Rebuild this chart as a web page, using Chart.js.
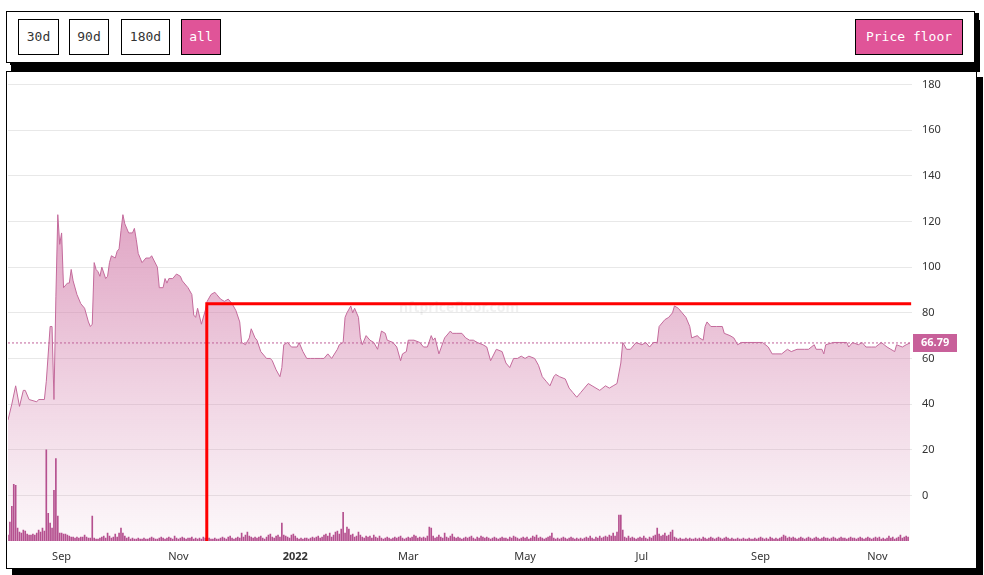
<!DOCTYPE html>
<html>
<head>
<meta charset="utf-8">
<script src="https://cdn.jsdelivr.net/npm/chart.js@4.4.0/dist/chart.umd.min.js"></script>
<style>
  body { margin: 0; background: #fff; width: 984px; height: 575px; overflow: hidden; position: relative; }
  #topbar { position: absolute; left: 6px; top: 11px; width: 967px; height: 50px; border: 1px solid #000;
            box-shadow: 4px 2px 0 #000, 5px 9px 0 #000; background: #fff; }
  .btn { position: absolute; top: 7px; height: 34px; border: 1px solid #000; background: #fff; color: #333;
         font: 13px "DejaVu Sans Mono", monospace; line-height: 34px; text-align: center; box-sizing: content-box; }
  .btn.on { background: #e05498; color: #fff; }
  #chartbox { position: absolute; left: 6px; top: 71px; width: 969px; height: 496px; border: 1px solid #000;
              box-shadow: 6px 6px 0 #000; background: #fff; }
  #wrap { position: absolute; left: 0; top: -4px; width: 969px; height: 500px; }
</style>
</head>
<body>
<div id="topbar">
  <div class="btn" style="left:11px;width:39px">30d</div>
  <div class="btn" style="left:62px;width:38px">90d</div>
  <div class="btn" style="left:114px;width:47px">180d</div>
  <div class="btn on" style="left:174px;width:38px">all</div>
  <div class="btn on" style="left:848px;width:106px">Price floor</div>
</div>
<div id="chartbox"><div id="wrap"><canvas id="floorChart"></canvas></div></div>
<script>
// ==== Data (x = days since 1 Aug 2021) ====
const priceDay = [3,5,7,9,11,12,14,18,19,22,23,25,26,27,28,29,30,31,32,34,35,36,37,39,41,43,45,46,47,48,49,50,51,52,54,55,56,57,59,60,61,62,63,64,66,68,69,70,71,73,75,77,78,81,82,84,85,86,87,89,91,93,94,97,99,100,101,102,104,106,107,109,111,112,114,116,118,120,122,124,125,127,129,130,132,133,135,138,140,141,143,145,146,147,149,151,154,155,157,159,161,163,166,168,170,172,175,176,178,179,180,182,183,184,186,187,188,190,192,194,196,198,200,201,204,206,208,209,211,212,215,218,220,222,224,225,226,228,231,234,235,237,240,242,244,246,248,251,253,255,258,261,263,265,267,269,271,273,275,278,280,282,284,286,288,289,291,294,296,298,300,302,304,306,308,310,312,315,317,319,321,323,324,326,328,329,331,334,336,338,340,342,343,346,348,350,351,353,355,357,359,360,363,364,366,367,368,370,373,376,377,380,382,384,386,389,392,394,397,400,402,404,407,410,412,415,419,421,424,425,428,429,430,434,437,441,442,444,447,449,451,454,456,459,462,464,466,467,470,472,474];
const priceVal = [33,40,48,39,46,46,42,41,42,42,50,74,74,42,87,123,110,115,91,93,93,99,94,88,84,82,76,74,75,102,99,98,96,100,95,96,102,105,104,107,108,116,123,119,115,115,117,112,106,102,104,104,105,100,91,91,95,93,95,95,97,96,94,91,88,79,78,82,75,81,85,88,89,88,86,85,86,84,81,76,67,66,69,73,69,68,63,60,60,59,55,52,56,66,67,65,65,67,63,60,60,60,60,60,62,60,64,66,67,78,80,83,80,82,78,69,66,70,68,67,64,72,71,68,67,65,59,62,63,68,68,67,65,65,70,68,69,62,69,72,71,71,71,69,68,68,67,66,65,59,64,63,58,56,60,60,61,60,61,60,57,52,50,48,52,53,52,51,47,45,43,45,47,49,48,47,46,48,47,48,49,58,67,64,64,65,67,66,67,65,67,67,74,77,78,80,83,82,80,78,74,69,70,69,68,74,76,74,74,74,71,70,69,66,67,67,67,67,67,65,62,62,62,64,63,64,64,64,66,64,64,62,66,67,67,67,65,67,66,67,65,65,65,67,65,64,63,66,65,66,66.79];

// daily volume, first entry is day 3
const volFirstDay = 3;
const volume = [
  6,19,35,57,56,13,9,8,11,10, 7,6,6,7,6,8,11,9,13,10, 92,28,18,13,51,83,25,8,8,7, 7,6,5,4,4,3,4,3,4,4,
  6,4,3,3,25,3,2,2,3,4, 5,3,8,5,3,4,7,4,8,13, 8,5,3,4,2,3,2,2,3,2, 2,3,2,2,3,4,3,2,2,3,
  4,3,2,3,4,3,2,5,3,2, 3,4,3,2,3,3,4,2,3,2, 3,2,4,3,2,3,2,2,3,2, 2,3,4,3,2,4,5,3,2,3,
  4,3,8,4,6,9,5,4,3,4, 3,4,5,3,2,4,6,7,4,3, 5,6,4,18,6,5,4,3,6,7, 5,3,2,3,2,3,3,2,3,4,
  3,4,5,3,4,6,7,5,8,4, 6,9,10,7,12,29,8,14,12,6, 7,4,5,9,6,4,3,5,4,5, 3,6,4,3,5,3,2,3,4,3,
  2,3,4,3,4,5,3,2,3,4, 3,4,6,5,3,4,3,4,3,5, 14,13,5,3,4,6,4,3,8,4, 3,5,7,4,3,4,3,2,3,4,
  3,4,5,3,2,4,3,5,4,3, 4,3,2,3,4,3,2,3,4,3, 3,2,4,3,5,4,3,2,3,4, 3,4,2,3,5,4,6,3,4,3,
  2,3,4,5,8,3,2,3,2,3, 4,3,2,3,4,3,2,3,2,3, 2,3,4,3,5,3,2,4,3,5, 3,4,5,4,6,5,8,5,9,26,
  26,11,4,3,5,3,4,3,2,3, 4,3,5,3,2,4,3,5,6,13, 7,5,6,8,5,6,9,11,4,3, 2,3,2,2,3,2,3,2,2,3,
  2,3,2,4,3,2,3,4,3,2, 3,4,3,2,3,4,3,2,3,2, 2,3,2,2,3,2,2,3,2,2, 3,2,3,4,3,2,3,2,4,3,
  2,3,2,3,4,6,5,3,4,3, 4,3,2,3,4,3,2,3,4,3, 2,3,4,3,2,3,4,3,3,2, 3,4,3,2,3,4,3,3,2,3,
  4,3,3,2,3,4,3,2,3,4, 3,2,3,4,3,4,2,3,2,3, 5,3,4,2,3,4,6,3,4,5, 4
];

const tickDays = [31, 92, 153, 212, 273, 334, 396, 457];
const tickLabels = ["Sep", "Nov", "2022", "Mar", "May", "Jul", "Sep", "Nov"];
const yTicks = [0, 20, 40, 60, 80, 100, 120, 140, 160, 180];

// red marker (break-out line) and last price
const markerX = [106.8, 106.8, 474.6];
const markerY = [-20, 84, 84];
const lastPrice = 66.79;

// ==== Plugins ====
const watermark = {
  id: "watermark",
  beforeDatasetsDraw(chart) {
    const { ctx, chartArea: a } = chart;
    ctx.save();
    ctx.font = "bold 14px 'Noto Sans', sans-serif";
    ctx.fillStyle = "rgba(0,0,0,0.06)";
    ctx.textAlign = "center";
    ctx.textBaseline = "middle";
    ctx.fillText("nftpricefloor.com", (a.left + a.right) / 2, a.top + 223);
    ctx.restore();
  }
};

const lastLabel = {
  id: "lastLabel",
  afterDatasetsDraw(chart) {
    const { ctx, chartArea: a } = chart;
    const y = chart.scales.y.getPixelForValue(lastPrice);
    ctx.save();
    ctx.fillStyle = "#c8609a";
    ctx.fillRect(a.right + 3, Math.round(y) - 9, 44, 18);
    ctx.fillStyle = "#fff";
    ctx.font = "bold 11px 'Noto Sans', sans-serif";
    ctx.textBaseline = "middle";
    ctx.fillText(lastPrice.toFixed(2), a.right + 11, y);
    ctx.restore();
  }
};

// ==== Chart ====
const ctx = document.getElementById("floorChart").getContext("2d");
new Chart(ctx, {
  type: "line",
  data: {
    datasets: [
      {
        type: "line",
        label: "marker",
        data: markerX.map((x, i) => ({ x, y: markerY[i] })),
        borderColor: "#f00",
        borderWidth: 3,
        pointRadius: 0,
        fill: false,
        clip: false,
        order: 0
      },
      {
        type: "line",
        label: "last",
        data: [{ x: 3, y: lastPrice }, { x: 475, y: lastPrice }],
        borderColor: "#c0619a",
        borderWidth: 1,
        borderDash: [2, 2],
        pointRadius: 0,
        fill: false,
        clip: false,
        order: 1
      },
      {
        type: "bar",
        label: "volume",
        yAxisID: "v",
        data: volume.map((v, i) => ({ x: volFirstDay + i, y: v })),
        backgroundColor: "#b5508f",
        barThickness: 1,
        order: 2
      },
      {
        type: "line",
        label: "floor",
        data: priceDay.map((x, i) => ({ x, y: priceVal[i] })),
        borderColor: "#c46b9c",
        borderWidth: 1,
        pointRadius: 0,
        tension: 0,
        fill: "start",
        backgroundColor: (c) => {
          const a = c.chart.chartArea;
          if (!a) return "rgba(215,140,180,0.5)";
          const g = c.chart.ctx.createLinearGradient(0, a.top, 0, a.bottom);
          g.addColorStop(0, "rgba(205,110,160,0.85)");
          g.addColorStop(0.45, "rgba(210,125,170,0.55)");
          g.addColorStop(1, "rgba(215,140,180,0.06)");
          return g;
        },
        order: 3
      }
    ]
  },
  options: {
    responsive: true,
    maintainAspectRatio: false,
    animation: false,
    layout: { padding: { left: 1, top: 8, right: 0, bottom: 0 } },
    plugins: { legend: { display: false }, tooltip: { enabled: false } },
    scales: {
      x: {
        type: "linear",
        min: 3,
        max: 474,
        offset: false,
        grid: { display: false, drawTicks: false },
        border: { display: false },
        afterBuildTicks: (s) => { s.ticks = tickDays.map(v => ({ value: v })); },
        afterFit: (s) => { s.height = 27; },
        ticks: {
          autoSkip: false,
          maxRotation: 0,
          padding: 9,
          color: "#333",
          font: (c) => ({ family: "'Noto Sans', sans-serif", size: 11, weight: c.tick && c.tick.value === 153 ? "bold" : "normal" }),
          callback: (v) => tickLabels[tickDays.indexOf(v)]
        }
      },
      y: {
        position: "right",
        min: -20,
        max: 180,
        grid: { color: "#e8e8e8", tickLength: 2 },
        border: { display: false },
        afterBuildTicks: (s) => { s.ticks = yTicks.map(v => ({ value: v })); },
        afterFit: (s) => { s.width = 66; },
        ticks: { padding: 10, color: "#333", font: { family: "'Noto Sans', sans-serif", size: 11 } }
      },
      v: { display: false, min: 0, max: 460 }
    }
  },
  plugins: [watermark, lastLabel]
});
</script>
</body>
</html>
